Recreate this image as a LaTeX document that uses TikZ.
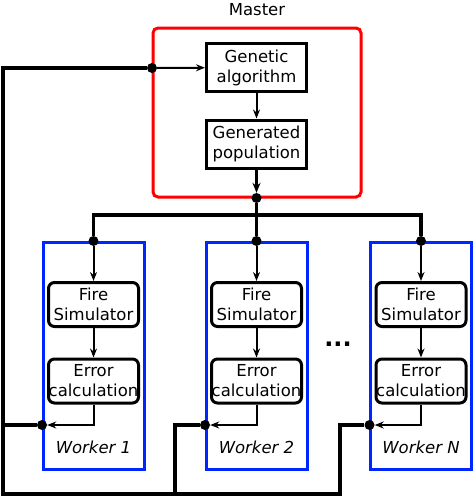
\documentclass[tikz,border=0pt]{standalone}
\usepackage{fontspec}
\setmainfont{DejaVu Sans}
\usetikzlibrary{arrows.meta}

\begin{document}
\begin{tikzpicture}
  [x=1pt,y=-1pt,
   every node/.style={font=\fontsize{16.5}{20}\selectfont,align=center},
   box/.style={draw,line width=3pt,minimum width=100pt,minimum height=48pt,inner sep=0pt},
   rbox/.style={box,rounded corners=6pt,minimum width=90pt,minimum height=44pt},
   masterbox/.style={draw=red,line width=3pt,rounded corners=5pt,minimum width=208pt,minimum height=169pt},
   workerbox/.style={draw=blue!85!cyan,line width=3pt,minimum width=101pt,minimum height=227pt},
   dot/.style={circle,fill=black,inner sep=0pt,minimum size=10pt},
   arr/.style={line width=2pt,-{Stealth[length=9pt,width=7pt]}},
   bus/.style={line width=3.5pt}]
  \useasboundingbox (0,0) rectangle (474,498);

  \node[masterbox] (master) at (257,112.5) {};
  \node (mlabel) at (257,10) {Master};
  \node[box] (ga) at (256.5,67.5) {Genetic\\algorithm};
  \node[box] (pop) at (256.5,144) {Generated\\population};

  \node[workerbox] (w1) at (93.5,355.5) {};
  \node[workerbox] (w2) at (256.5,355.5) {};
  \node[workerbox] (wN) at (421,355.5) {};

  \node[rbox] (f1) at (93.5,304.5) {Fire\\Simulator};
  \node[rbox] (f2) at (256.5,304.5) {Fire\\Simulator};
  \node[rbox] (fN) at (421,304.5) {Fire\\Simulator};
  \node[rbox] (e1) at (93.5,381) {Error\\calculation};
  \node[rbox] (e2) at (256.5,381) {Error\\calculation};
  \node[rbox] (eN) at (421,381) {Error\\calculation};

  \node (l1) at (93.5,447) {\itshape Worker 1};
  \node (l2) at (256.5,447) {\itshape Worker 2};
  \node (lN) at (421,447) {\itshape Worker N};
  \node[font=\fontsize{24}{24}\selectfont\bfseries] (dots) at (338,344) {...};

  \node[dot] (dm) at (152,68) {};
  \node[dot] (dp) at (256.5,198) {};
  \node[dot] (t1) at (93.5,241) {};
  \node[dot] (t2) at (256.5,241) {};
  \node[dot] (tN) at (421,241) {};
  \node[dot] (b1) at (42,425) {};
  \node[dot] (b2) at (205,425) {};
  \node[dot] (bN) at (369.5,425) {};

  \coordinate (split) at (256.5,215);
  \coordinate (corner) at (3,494);

  % master
  \draw[arr] (ga) -- (pop);
  \draw[arr] (dm) -- (ga);
  \draw[bus,-{Stealth[length=10pt,width=8pt]}] (pop) -- (dp);

  % distribution to workers
  \draw[bus] (dp) -- (t2);
  \draw[bus] (t1) |- (split) -| (tN);

  % workers
  \foreach \w in {1,2,N} {
    \draw[arr] (t\w) -- (f\w);
    \draw[arr] (f\w) -- (e\w);
    \draw[arr] (e\w) |- (b\w);
  }

  % feedback
  \draw[bus] (dm) -| (corner) -- (corner -| b2);
  \draw[bus] (b1) -- (b1 -| corner);
  \draw[bus] (b2) -- ++(-30,0) |- (corner);
  \draw[bus] (bN) -- ++(-29.5,0) |- (b2 |- corner);

\end{tikzpicture}
\end{document}
